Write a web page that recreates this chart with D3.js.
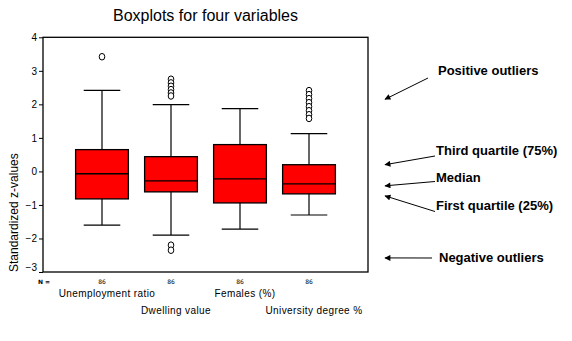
<!DOCTYPE html>
<html>
<head>
<meta charset="utf-8">
<script src="https://cdn.jsdelivr.net/npm/d3@7"></script>
<style>
  html, body { margin: 0; padding: 0; background: #fff; }
  svg { display: block; }
</style>
</head>
<body>
<svg id="chart" width="572" height="341"></svg>
<script>
// Variables shown, with case counts
const categories = ["Unemployment ratio", "Dwelling value", "Females (%)", "University degree %"];
const counts = [86, 86, 86, 86];

// Five-number summaries (standardized z-values)
const whiskerLow  = [-1.60, -1.90, -1.72, -1.30];
const q1          = [-0.82, -0.61, -0.94, -0.67];
const median      = [-0.07, -0.28, -0.22, -0.37];
const q3          = [ 0.65,  0.44,  0.80,  0.20];
const whiskerHigh = [ 2.42,  1.99,  1.87,  1.13];

// Outlying cases per variable
const outliers = [
  [3.42],
  [2.75, 2.64, 2.54, 2.44, 2.34, 2.25, -2.20, -2.35],
  [],
  [2.41, 2.29, 2.17, 2.05, 1.93, 1.81, 1.69, 1.58]
];

const yTicks = [4, 3, 2, 1, 0, -1, -2, -3];

// Explanatory callouts and the z-level each arrow points to
const calloutText  = ["Positive outliers", "Third quartile (75%)", "Median", "First quartile (25%)", "Negative outliers"];
const calloutLevel = [2.15, 0.20, -0.43, -0.73, -2.58];

const svg = d3.select("#chart");
const plotL = 43, plotR = 368, plotT = 37.3, plotB = 272;

const x = d3.scalePoint().domain(categories).range([plotL, plotR]).padding(0.855);
const y = d3.scaleLinear().domain([-3, 4]).range([plotB, plotT]);
const step = x.step();
const boxW = step * 0.765;
const capW = step * 0.53;

// Title
svg.append("text")
  .attr("x", (plotL + plotR) / 2).attr("y", 21)
  .attr("text-anchor", "middle")
  .style("font-family", "'Liberation Sans', Arial, sans-serif")
  .style("font-size", "16px")
  .text("Boxplots for four variables");

// Y axis
const yAxis = d3.axisLeft(y).tickValues(yTicks).tickFormat(d3.format("d"))
  .tickSize(4).tickSizeOuter(0).tickPadding(2);
const gy = svg.append("g").attr("transform", `translate(${plotL},0)`).call(yAxis);
gy.select(".domain").remove();
gy.selectAll("text")
  .style("font-family", "'Liberation Sans', Arial, sans-serif")
  .style("font-size", "10px")
  .attr("dy", d => d === -3 ? "-0.15em" : "0.32em");
gy.selectAll("line").attr("stroke", "#000");

// Y axis title
svg.append("text")
  .attr("transform", `translate(18,${plotB}) rotate(-90)`)
  .attr("text-anchor", "start")
  .style("font-family", "'Liberation Sans', Arial, sans-serif")
  .style("font-size", "12px")
  .text("Standardized z-values");

// Plot frame
svg.append("rect")
  .attr("x", plotL).attr("y", plotT)
  .attr("width", plotR - plotL).attr("height", plotB - plotT)
  .attr("fill", "none").attr("stroke", "#000").attr("stroke-width", 1.3);

// Boxes
const groups = svg.append("g").selectAll("g")
  .data(categories.map((c, i) => ({
    c, i, lo: whiskerLow[i], q1: q1[i], med: median[i], q3: q3[i], hi: whiskerHigh[i], out: outliers[i]
  })))
  .join("g")
  .attr("transform", d => `translate(${x(d.c)},0)`);

// whisker stems
groups.append("line")
  .attr("x1", 0).attr("x2", 0)
  .attr("y1", d => y(d.hi)).attr("y2", d => y(d.lo))
  .attr("stroke", "#000").attr("stroke-width", 1.2);
// whisker caps
groups.selectAll(".cap").data(d => [d.lo, d.hi]).join("line")
  .attr("class", "cap")
  .attr("x1", -capW / 2).attr("x2", capW / 2)
  .attr("y1", v => y(v)).attr("y2", v => y(v))
  .attr("stroke", "#000").attr("stroke-width", 1.2);
// box
groups.append("rect")
  .attr("x", -boxW / 2).attr("width", boxW)
  .attr("y", d => y(d.q3)).attr("height", d => y(d.q1) - y(d.q3))
  .attr("fill", "#fe0000").attr("stroke", "#000").attr("stroke-width", 1.3);
// median
groups.append("line")
  .attr("x1", -boxW / 2).attr("x2", boxW / 2)
  .attr("y1", d => y(d.med)).attr("y2", d => y(d.med))
  .attr("stroke", "#000").attr("stroke-width", 1.3);
// outliers
groups.selectAll(".out").data(d => d.out).join("ellipse")
  .attr("class", "out")
  .attr("cx", 0).attr("cy", v => y(v))
  .attr("rx", 2.8).attr("ry", 3.3)
  .attr("fill", "#fff").attr("stroke", "#000").attr("stroke-width", 1);

// Case counts under the plot
svg.append("text")
  .attr("x", 38).attr("y", 284)
  .style("font-family", "'DejaVu Sans', sans-serif")
  .style("font-size", "6px").style("font-weight", "bold")
  .text("N =");
svg.append("g").selectAll("text")
  .data(categories)
  .join("text")
  .attr("x", d => x(d)).attr("y", 284)
  .attr("text-anchor", "middle")
  .style("font-family", "'DejaVu Sans', sans-serif")
  .style("font-size", "6px")
  .text((d, i) => counts[i]);

// Category labels, staggered on two rows
svg.append("g").selectAll("text")
  .data(categories)
  .join("text")
  .attr("x", d => x(d) + 5)
  .attr("y", (d, i) => i % 2 === 0 ? 297 : 314)
  .attr("text-anchor", "middle")
  .style("font-family", "'Liberation Sans', Arial, sans-serif")
  .style("font-size", "10px")
  .style("letter-spacing", "0.4px")
  .text(d => d);

// Callouts with arrows
const defs = svg.append("defs");
defs.append("marker")
  .attr("id", "arrowhead")
  .attr("viewBox", "0 0 10 10")
  .attr("refX", 9).attr("refY", 5)
  .attr("markerWidth", 7).attr("markerHeight", 6)
  .attr("markerUnits", "userSpaceOnUse")
  .attr("orient", "auto")
  .append("path").attr("d", "M0,0 L10,5 L0,10 Z").attr("fill", "#000");

const textPos = [[438, 75], [436, 155], [436, 182], [436, 210], [439, 262]];
const tailPos = [[428, 78], [435, 156], [435, 181.5], [435, 211.5], [432, 258]];
const tipX = 385;

const callouts = svg.append("g").selectAll("g")
  .data(calloutText.map((t, i) => ({ t, level: calloutLevel[i], tp: textPos[i], tail: tailPos[i] })))
  .join("g");
callouts.append("line")
  .attr("x1", d => d.tail[0]).attr("y1", d => d.tail[1])
  .attr("x2", tipX).attr("y2", d => y(d.level))
  .attr("stroke", "#000").attr("stroke-width", 1)
  .attr("marker-end", "url(#arrowhead)");
callouts.append("text")
  .attr("x", d => d.tp[0]).attr("y", d => d.tp[1])
  .style("font-family", "'Liberation Sans', Arial, sans-serif")
  .style("font-size", "13px").style("font-weight", "bold")
  .text(d => d.t);
</script>
</body>
</html>
